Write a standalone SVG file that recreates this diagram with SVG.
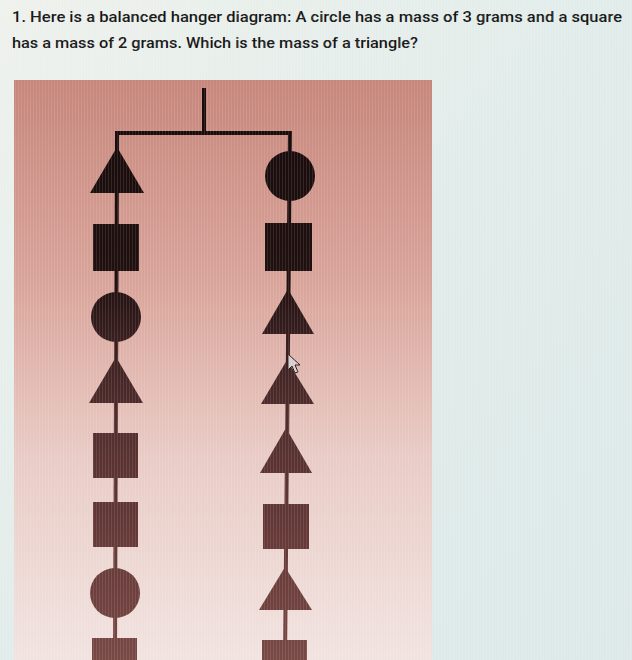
<svg xmlns="http://www.w3.org/2000/svg" width="632" height="660" viewBox="0 0 632 660">
  <defs>
    <linearGradient id="bg" x1="0" y1="0" x2="1" y2="1">
      <stop offset="0" stop-color="#eef1ec"/>
      <stop offset="0.5" stop-color="#e1ecea"/>
      <stop offset="1" stop-color="#dce9e8"/>
    </linearGradient>
    <linearGradient id="panel" x1="0" y1="0" x2="0" y2="1">
      <stop offset="0" stop-color="#c6867b"/>
      <stop offset="0.35" stop-color="#d9a49a"/>
      <stop offset="0.65" stop-color="#e9cbc5"/>
      <stop offset="1" stop-color="#f1e3e0"/>
    </linearGradient>
    <linearGradient id="ink" gradientUnits="userSpaceOnUse" x1="0" y1="130" x2="0" y2="660">
      <stop offset="0" stop-color="#1a0c0c"/>
      <stop offset="0.28" stop-color="#201010"/>
      <stop offset="0.4" stop-color="#3a1f1f"/>
      <stop offset="0.55" stop-color="#532e2e"/>
      <stop offset="0.8" stop-color="#673b39"/>
      <stop offset="1" stop-color="#784845"/>
    </linearGradient>
    <pattern id="stripes" width="3" height="10" patternUnits="userSpaceOnUse">
      <rect x="0" y="0" width="1" height="10" fill="#ffffff" opacity="0.1"/>
    </pattern>
    <style>
      .q { font-family: Roboto, "Liberation Sans", Arial, sans-serif; font-size: 15.5px; font-weight: 500; fill: #161616; }
      .ink { fill: url(#ink); }
      .wire { stroke: url(#ink); stroke-width: 4; fill: none; }
    </style>
  </defs>

  <rect x="0" y="0" width="632" height="660" fill="url(#bg)"/>
  <rect x="14" y="80" width="418" height="580" fill="url(#panel)"/>

  <g id="question">
    <text class="q" x="12" y="22" textLength="610" lengthAdjust="spacingAndGlyphs">1. Here is a balanced hanger diagram: A circle has a mass of 3 grams and a square</text>
    <text class="q" x="12" y="48" textLength="406" lengthAdjust="spacingAndGlyphs">has a mass of 2 grams. Which is the mass of a triangle?</text>
  </g>

  <g id="connectors">
    <line class="wire" x1="204" y1="88" x2="204" y2="133"/>
    <line class="wire" x1="115" y1="133" x2="292" y2="133" stroke-width="5"/>
    <line class="wire" x1="117" y1="131" x2="115" y2="660"/>
    <line class="wire" x1="290" y1="131" x2="285" y2="660"/>
  </g>

  <g id="left-triangle-1"><polygon class="ink" points="117,147 144,193 90,193"/></g>
  <g id="left-square-1"><rect class="ink" x="93" y="224" width="46" height="47"/></g>
  <g id="left-circle-1"><circle class="ink" cx="116" cy="317" r="25"/></g>
  <g id="left-triangle-2"><polygon class="ink" points="116,357 143,403 89,403"/></g>
  <g id="left-square-2"><rect class="ink" x="93" y="433" width="45" height="45"/></g>
  <g id="left-square-3"><rect class="ink" x="93" y="502" width="45" height="45"/></g>
  <g id="left-circle-2"><circle class="ink" cx="115" cy="593" r="25"/></g>
  <g id="left-square-4"><rect class="ink" x="92" y="638" width="45" height="30"/></g>

  <g id="right-circle-1"><circle class="ink" cx="290" cy="176" r="25"/></g>
  <g id="right-square-1"><rect class="ink" x="265" y="223" width="47" height="48"/></g>
  <g id="right-triangle-1"><polygon class="ink" points="288,289 314,334 262,334"/></g>
  <g id="right-triangle-2"><polygon class="ink" points="287,360 314,404 261,404"/></g>
  <g id="right-triangle-3"><polygon class="ink" points="286,428 312,473 260,473"/></g>
  <g id="right-square-2"><rect class="ink" x="263" y="504" width="46" height="45"/></g>
  <g id="right-triangle-4"><polygon class="ink" points="285,567 312,610 259,610"/></g>
  <g id="right-square-3"><rect class="ink" x="262" y="640" width="45" height="25"/></g>

  <g id="cursor">
    <path d="M288,354 L288,370 L292,366 L295,373 L298,372 L295,365 L300,365 Z" fill="#d8d0d0" stroke="#2a1a1a" stroke-width="1"/>
  </g>

  <rect x="0" y="0" width="632" height="660" fill="url(#stripes)"/>
</svg>
